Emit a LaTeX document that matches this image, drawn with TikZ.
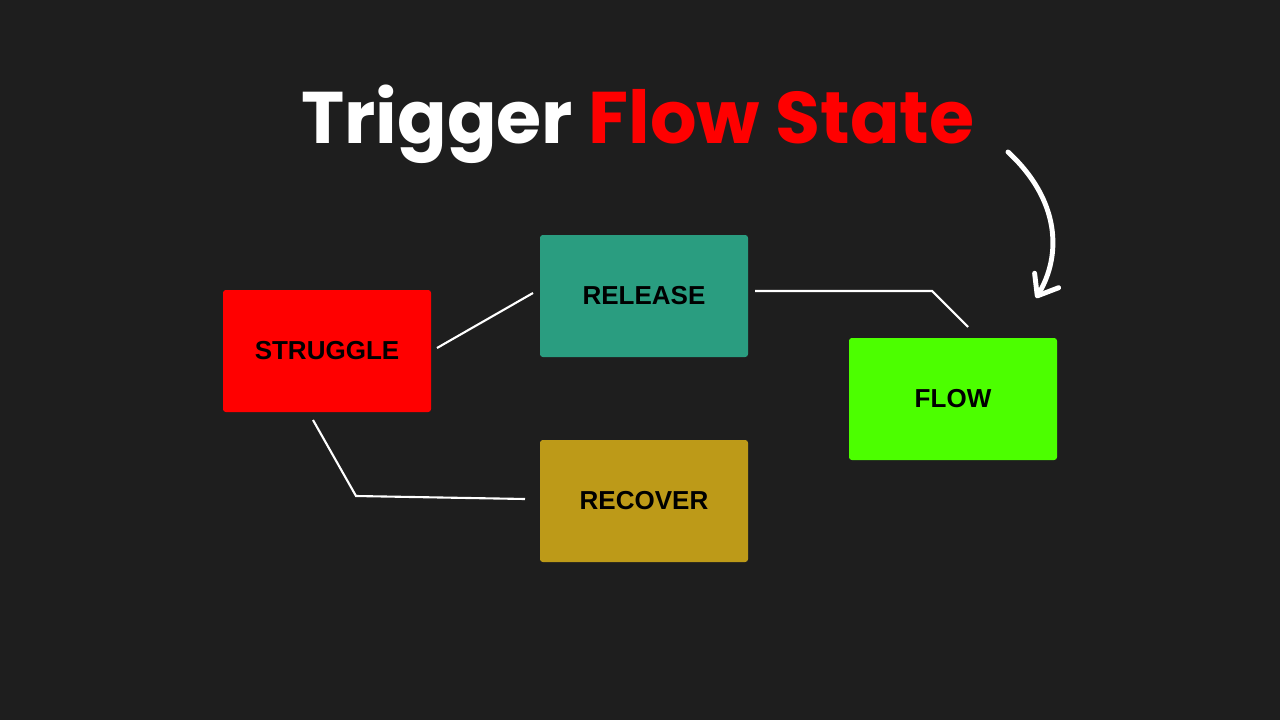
\documentclass[tikz,border=0pt]{standalone}
\usepackage{fontspec}
\setmainfont{Liberation Sans}
\newfontfamily\titlefont{Poppins}
\usetikzlibrary{arrows.meta}
\definecolor{bg}{HTML}{1E1E1E}
\definecolor{cstr}{HTML}{FF0000}
\definecolor{crel}{HTML}{2A9D80}
\definecolor{cflow}{HTML}{4CFF00}
\definecolor{crec}{HTML}{BD9A18}
\begin{document}
\begin{tikzpicture}[x=0.5mm,y=-0.5mm,
  box/.style={rounded corners=4pt,minimum width=104mm,minimum height=61mm,inner sep=0pt,font=\fontsize{37}{42}\selectfont\bfseries,text=black},
  conn/.style={draw=white,line width=3pt}]
\fill[bg] (0,0) rectangle (1280,720);
\useasboundingbox (0,0) rectangle (1280,720);
\node (title) at (638,124) {\titlefont\bfseries\fontsize{104}{114}\selectfont\color{white}Trigger \color{red}Flow State};
\node[box,fill=cstr] (str) at (327,351) {STRUGGLE};
\node[box,fill=crel] (rel) at (644,296) {RELEASE};
\node[box,fill=cflow] (flow) at (953,399) {FLOW};
\node[box,fill=crec] (rec) at (644,501) {RECOVER};
\coordinate (a1) at (437,348); \coordinate (a2) at (533,293);
\draw[conn] (a1) -- (a2);
\coordinate (b1) at (755,291); \coordinate (b2) at (932,291); \coordinate (b3) at (968,327);
\draw[conn] (b1) -- (b2) -- (b3);
\coordinate (c1) at (313,420); \coordinate (c2) at (356,496); \coordinate (c3) at (525,499);
\draw[conn] (c1) -- (c2) -- (c3);
\coordinate (d1) at (1008,152); \coordinate (d2) at (1036,298);
\draw[white,line width=7pt,line cap=round,-{Straight Barb[length=9mm,width=14mm,line width=7pt,round]}] (d1) .. controls (1060,200) and (1062,255) .. (d2);
\end{tikzpicture}
\end{document}
